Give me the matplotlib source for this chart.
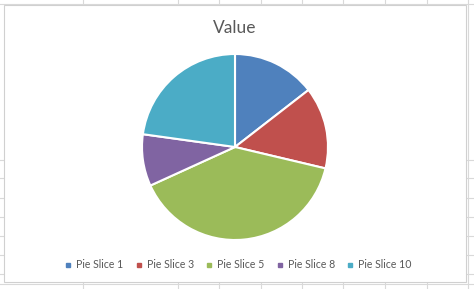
import matplotlib
from matplotlib import pyplot as plt
from matplotlib.lines import Line2D
from matplotlib.patches import Rectangle
plt.switch_backend('agg')

labels = ['Pie Slice 1', 'Pie Slice 3', 'Pie Slice 5', 'Pie Slice 8', 'Pie Slice 10']
values = [14.5, 14.2, 39.5, 9.0, 22.8]
colors = ['#4F81BD', '#C0504D', '#9BBB59', '#8064A2', '#4BACC6']
title = 'Value'

W, H = 474, 289
fig = plt.figure(figsize=(W / 100, H / 100), dpi=100)
fig.patch.set_facecolor('white')

# spreadsheet cell grid behind the chart
grid_x = [83, 178, 219, 261, 302, 343, 385, 427, 468]
grid_y = [4, 160, 178, 198, 217, 236, 255, 274, 284]
for gx in grid_x:
    fig.add_artist(Line2D([gx / W, gx / W], [0, 1], color='#d9d9d9', lw=0.8, zorder=-3))
for gy in grid_y:
    fig.add_artist(Line2D([0, 1], [1 - gy / H, 1 - gy / H], color='#d9d9d9', lw=0.8, zorder=-3))

# chart area
fig.add_artist(Rectangle((4 / W, 1 - 282 / H), 462 / W, 277 / H, transform=fig.transFigure,
                         facecolor='white', edgecolor='#d0d0d0', lw=0.8, zorder=-2))

cx, cy, r = 235, 147, 93
ax = fig.add_axes([(cx - r) / W, (H - cy - r) / H, 2 * r / W, 2 * r / H])
ax.pie(values, colors=colors, startangle=90, counterclock=False,
       wedgeprops=dict(edgecolor='white', linewidth=1.5))
ax.set_xlim(-1, 1)
ax.set_ylim(-1, 1)
ax.set_aspect('equal')
ax.axis('off')

fig.text(235 / W, 1 - 28 / H, title, ha='center', va='center', fontsize=12.5,
         color='#595959', family='Lato')

handles = [Line2D([], [], marker='s', linestyle='none', markersize=3.5,
                  markerfacecolor=c, markeredgecolor=c) for c in colors]
leg = fig.legend(handles, labels, loc='center', bbox_to_anchor=(0.503, 1 - 265 / H),
                 ncol=5, frameon=False, handlelength=0.6, handletextpad=0.45,
                 columnspacing=1.15, prop={'family': 'Lato', 'size': 7.6})
for t in leg.get_texts():
    t.set_color('#595959')

plt.savefig('out.png', dpi=100)
